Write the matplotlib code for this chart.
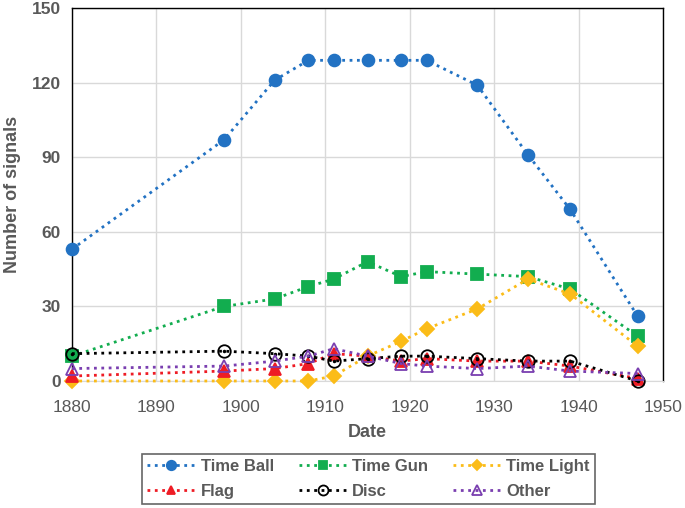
import matplotlib
matplotlib.use("Agg")
import matplotlib.pyplot as plt

plt.rcParams["font.family"] = ["Liberation Sans", "DejaVu Sans"]

years = [1880, 1898, 1904, 1908, 1911, 1915, 1919, 1922, 1928, 1934, 1939, 1947]

time_ball = [53, 97, 121, 129, 129, 129, 129, 129, 119, 91, 69, 26]
time_gun = [10, 30, 33, 38, 41, 48, 42, 44, 43, 42, 37, 18]
time_light = [0, 0, 0, 0, 2, 10, 16, 21, 29, 41, 35, 14]
flag = [2, 4, 5, 7, 11, 10, 8, 9, 8, 8, 6, 1]
disc = [11, 12, 11, 10, 8, 9, 10, 10, 9, 8, 8, 0]
other = [5, 6, 8, 10, 13, 10, 7, 6, 5, 6, 4, 3]

TEXT = "#595959"


def draw_series(ax, ys, label, color, marker, size, filled=True):
    face = color if filled else "none"
    line, = ax.plot(years, ys, linestyle=":", linewidth=2, color=color, marker=marker,
                    markersize=size, markerfacecolor=face, markeredgecolor=color,
                    markeredgewidth=1.3, label=label, clip_on=False, zorder=3)
    return line


def main():
    fig = plt.figure(figsize=(6.85, 5.08), dpi=100)
    ax = fig.add_axes([0.105, 0.25, 0.863, 0.734])

    h_ball = draw_series(ax, time_ball, "Time Ball", "#2272c3", "o", 8.5)
    h_gun = draw_series(ax, time_gun, "Time Gun", "#12ad4f", "s", 8)
    h_light = draw_series(ax, time_light, "Time Light", "#fbbc18", "D", 7)
    h_flag = draw_series(ax, flag, "Flag", "#ee1c25", "^", 8)
    # disc marker: open circle with a dot in the middle
    h_disc, = ax.plot(years, disc, linestyle=":", linewidth=2, color="black", marker="o",
                      markersize=9, markerfacecolor="none", markeredgecolor="black",
                      markeredgewidth=1.3, label="Disc", clip_on=False, zorder=3)
    ax.plot(years, disc, linestyle="none", marker=".", markersize=3, color="black",
            clip_on=False, zorder=3)
    h_other = draw_series(ax, other, "Other", "#7a3fb0", "^", 8.5, filled=False)

    ax.set_xlim(1880, 1950)
    ax.set_ylim(0, 150)
    ax.set_xticks(range(1880, 1951, 10))
    ax.set_yticks(range(0, 151, 30))
    ax.grid(True, color="#d9d9d9", linewidth=1)
    ax.set_axisbelow(True)
    for side in ["top", "left", "right"]:
        ax.spines[side].set_color("black")
        ax.spines[side].set_linewidth(1)
    ax.spines["bottom"].set_color("#d9d9d9")
    ax.tick_params(axis="y", length=0, pad=8)
    ax.tick_params(axis="x", length=0, pad=14)
    for t in ax.get_yticklabels():
        t.set_fontweight("bold")
        t.set_fontsize(12.5)
        t.set_color(TEXT)
    for t in ax.get_xticklabels():
        t.set_fontsize(12.5)
        t.set_color(TEXT)

    ax.set_xlabel("Date", fontsize=13, fontweight="bold", color=TEXT, labelpad=6)
    ax.set_ylabel("Number of signals", fontsize=13, fontweight="bold", color=TEXT, labelpad=8)

    # legend fills by column, so order handles to read row by row
    handles = [h_ball, h_flag, h_gun, h_disc, h_light, h_other]
    labels = [h.get_label() for h in handles]
    leg = fig.legend(handles, labels, loc="center", bbox_to_anchor=(0.538, 0.057), ncol=3,
                     fontsize=12, frameon=True, fancybox=False, edgecolor="#404040",
                     handlelength=2.9, columnspacing=1.5, handletextpad=0.3,
                     borderpad=0.3, labelspacing=0.6, markerscale=0.8)
    leg.get_frame().set_linewidth(1.2)
    for t in leg.get_texts():
        t.set_fontweight("bold")
        t.set_color(TEXT)

    fig.savefig("out.png", dpi=100)
    plt.close(fig)


if __name__ == "__main__":
    main()
